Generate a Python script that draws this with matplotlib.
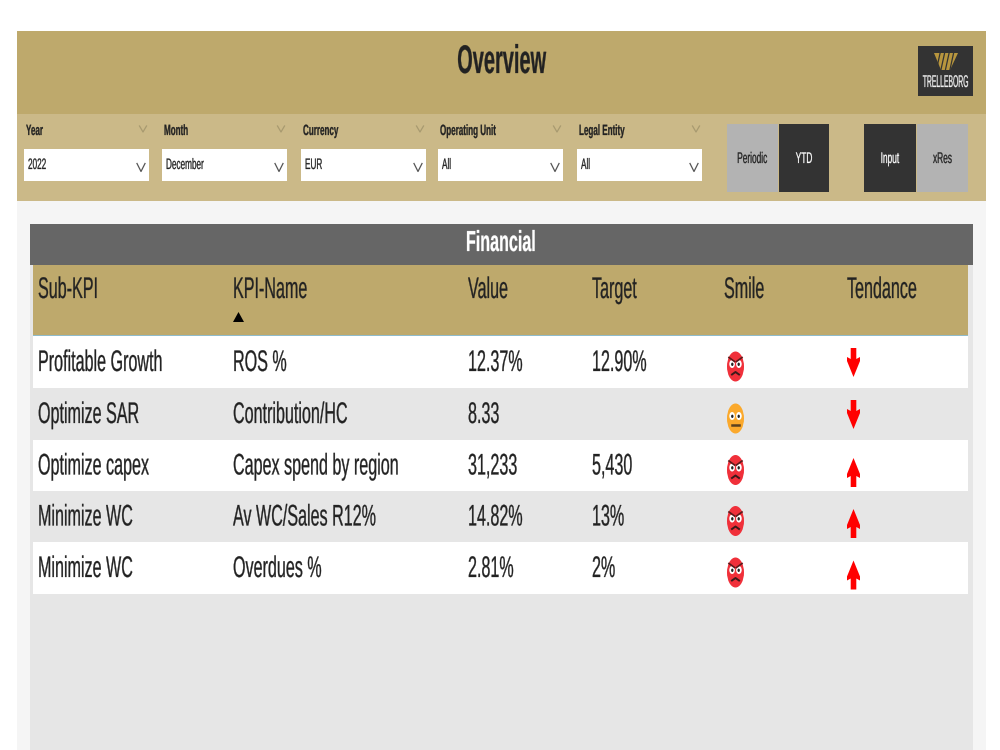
"""Overview KPI dashboard: filter bar and the Financial table."""

import matplotlib
matplotlib.use("Agg")
import matplotlib.pyplot as plt
from matplotlib.patches import Ellipse, Polygon, Rectangle
from matplotlib.patheffects import AbstractPathEffect
from matplotlib.transforms import Affine2D

plt.rcParams["font.family"] = ["Liberation Sans", "DejaVu Sans"]

TITLE = "Overview"
SECTION = "Financial"

FILTER_LABELS = ["Year", "Month", "Currency", "Operating Unit", "Legal Entity"]
FILTER_VALUES = ["2022", "December", "EUR", "All", "All"]

COLUMNS = ["Sub-KPI", "KPI-Name", "Value", "Target", "Smile", "Tendance"]
SUB_KPI = ["Profitable Growth", "Optimize SAR", "Optimize capex", "Minimize WC", "Minimize WC"]
KPI_NAME = ["ROS %", "Contribution/HC", "Capex spend by region", "Av WC/Sales R12%", "Overdues %"]
VALUE = ["12.37%", "8.33", "31,233", "14.82%", "2.81%"]
TARGET = ["12.90%", "", "5,430", "13%", "2%"]
SMILE = ["red", "amber", "red", "red", "red"]
TENDANCE = ["down", "down", "up", "up", "up"]

# layout, in reference pixels
COL_X = [38, 233, 468, 592, 724, 847]
ROW_EDGES = [336, 388, 440, 491, 542, 594]
FILTER_X = [24, 162, 301, 438, 577]
FILTER_W = 125

GOLD = "#BEA96C"
GOLD_LIGHT = "#CBB988"
INK = "#222222"
DARK = "#333333"
BUTTON = "#B3B3B3"
PANEL = "#E6E6E6"
RED = "#F0303A"
AMBER = "#FBA92C"
ARROW = "#FF0000"


class Tall(AbstractPathEffect):
    """The screenshot's text is squeezed sideways; no narrow face is installed,
    so set a smaller size for the width and stretch the glyphs upward. A thin
    outline makes up for the weight that stretching takes away."""

    def __init__(self, factor, outline=0.18):
        super().__init__()
        self.factor = factor
        self.outline = outline

    def draw_path(self, renderer, gc, tpath, affine, rgbFace=None):
        gc.set_linewidth(self.outline)
        gc.set_foreground(rgbFace)
        renderer.draw_path(gc, tpath, Affine2D().scale(1, self.factor) + affine, rgbFace)


fig = plt.figure(figsize=(10, 7.5), dpi=100)
ax = fig.add_axes([0, 0, 1, 1])
ax.set_xlim(0, 1000)
ax.set_ylim(750, 0)
ax.axis("off")


def box(x0, y0, x1, y1, color, z=1):
    ax.add_patch(Rectangle((x0, y0), x1 - x0, y1 - y0, facecolor=color, edgecolor="none", zorder=z))


def label(x, y, s, size, stretch=1.85, color=INK, ha="left", weight="normal"):
    ax.text(x, y, s, fontsize=size, color=color, ha=ha, va="baseline", fontweight=weight,
            zorder=6, path_effects=[Tall(stretch)])


def chevron(x, y, color, half=4.5, rise=4.5):
    ax.plot([x - half, x, x + half], [y - rise, y + rise, y - rise], color=color, lw=0.9, zorder=4)


def face(cx, cy, kind):
    ax.add_patch(Ellipse((cx, cy), 17, 30, facecolor=RED if kind == "red" else AMBER,
                         edgecolor="none", zorder=3))
    for side in (-1, 1):
        ax.add_patch(Ellipse((cx + side * 3.4, cy - 2.5), 5.6, 8, facecolor="white", zorder=4))
        ax.add_patch(Ellipse((cx + side * 3.2, cy - 2.2), 2.4, 3.4, facecolor="#222222", zorder=5))
        if kind == "red":
            ax.plot([cx + side * 1, cx + side * 6.5], [cy - 5, cy - 9], color="#5a1a1a", lw=1.2, zorder=6)
    if kind == "red":
        ax.plot([cx - 3.5, cx, cx + 3.5], [cy + 8, cy + 5.5, cy + 8], color="#3a1a1a", lw=1.4, zorder=4)
    else:
        ax.plot([cx - 3.5, cx + 3.5], [cy + 6, cy + 6], color="#5a4020", lw=1.8, zorder=4)


def arrow(cx, cy, direction):
    # s = +1 points the tip down the page
    s = 1 if direction == "down" else -1
    tail = cy - s * 14.5
    tip = cy + s * 14.5
    shaft, wing = 2.8, 6.5
    pts = [(cx - shaft, tail), (cx + shaft, tail), (cx + shaft, tail + s * 11),
           (cx + wing, tail + s * 9), (cx + wing, tail + s * 13), (cx, tip),
           (cx - wing, tail + s * 13), (cx - wing, tail + s * 9), (cx - shaft, tail + s * 11)]
    ax.add_patch(Polygon(pts, closed=True, facecolor=ARROW, edgecolor="none", zorder=3))


# page blocks
box(17, 31, 986, 114, GOLD)
box(17, 114, 986, 201, GOLD_LIGHT)
box(17, 201, 986, 750, "#F5F5F5")
box(30, 224, 973, 750, PANEL)
box(30, 224, 973, 265, "#666666", 2)
box(33, 265, 968, 335, GOLD, 2)
box(33, 335, 968, 336.5, "#8FBBCB", 2)

label(501.5, 73, TITLE, 14.4, stretch=2.0, ha="center", weight="bold")
label(501, 251, SECTION, 11.6, stretch=1.8, color="white", ha="center", weight="bold")

# logo
box(918, 46, 973, 96, DARK, 3)
ax.add_patch(Polygon([(934, 53), (958, 53), (950, 70), (941, 70)], closed=True,
                     facecolor="#B8963E", edgecolor="none", zorder=4))
for k in range(4):
    ax.plot([940 + 4.5 * k, 936.5 + 4.5 * k], [53.5, 69.5], color=DARK, lw=0.9, zorder=5)
label(945.5, 87, "TRELLEBORG", 4.9, stretch=2.5, color="#EEEEEE", ha="center")

# filter controls
for x, name, val in zip(FILTER_X, FILTER_LABELS, FILTER_VALUES):
    label(x + 2, 135, name, 5.8, weight="bold")
    chevron(x + 119, 129, "#A89A70", 3.5, 3)
    box(x, 148.5, x + FILTER_W, 181, "white", 3)
    label(x + 4, 169, val, 5.9)
    chevron(x + 117, 167.5, "#555555", 4, 4)

# toggle buttons
for x0, x1, name, on in [(727, 778, "Periodic", False), (779, 829, "YTD", True),
                         (864, 916, "Input", True), (917, 968, "xRes", False)]:
    box(x0, 123.5, x1, 191.5, DARK if on else BUTTON, 3)
    label((x0 + x1) / 2, 163, name, 6.0, color="white" if on else INK, ha="center")

# table header
for x, col in zip(COL_X, COLUMNS):
    label(x, 298, col, 11.6)
ax.add_patch(Polygon([(233, 322), (244, 322), (238.5, 312)], closed=True, facecolor="black", zorder=5))

# table rows
for i in range(len(SUB_KPI)):
    top, bottom = ROW_EDGES[i], (ROW_EDGES + [646])[i + 1]
    box(33, top, 968, bottom, "white" if i % 2 == 0 else PANEL, 2)
    mid = (top + bottom) / 2
    for x, cell in zip(COL_X, (SUB_KPI[i], KPI_NAME[i], VALUE[i], TARGET[i])):
        label(x, mid + 9, cell, 11.6)
    face(735.5, mid + 4.5, SMILE[i])
    arrow(853.5, mid + (0.5 if TENDANCE[i] == "down" else 7), TENDANCE[i])

box(33, ROW_EDGES[-1], 968, 750, PANEL, 2)

fig.savefig("out.png", dpi=100)
